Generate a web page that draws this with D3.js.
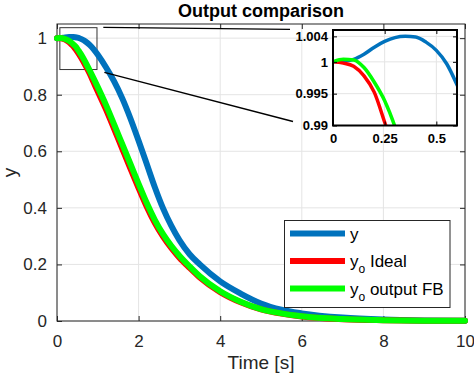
<!DOCTYPE html>
<html>
<head>
<meta charset="utf-8">
<script src="https://cdn.jsdelivr.net/npm/d3@7"></script>
<style>
  body { margin: 0; background: #fff; }
  text { font-family: "Liberation Sans", Arial, Helvetica, sans-serif; }
</style>
</head>
<body>
<div class="chart"></div>
<script>
//data
var time      = [0, 0.05, 0.1, 0.15, 0.2, 0.25, 0.3, 0.35, 0.4, 0.45, 0.5, 0.55, 0.6, 0.7, 0.8, 0.9, 1.0, 1.2, 1.4, 1.6, 1.8, 2.0, 2.2, 2.4, 2.6, 2.8, 3.0, 3.25, 3.5, 4, 4.5, 5, 5.5, 6, 7, 8, 9, 10];
var yOut      = [1, 1.0001, 1.0004, 1.0012, 1.0023, 1.0032, 1.0038, 1.0040, 1.0039, 1.0031, 1.0018, 0.9997, 0.9964, 0.988, 0.976, 0.960, 0.941, 0.897, 0.847, 0.787, 0.716, 0.637, 0.555, 0.472, 0.398, 0.337, 0.286, 0.236, 0.200, 0.140, 0.097, 0.062, 0.040, 0.027, 0.012, 0.005, 0.002, 0.001];
var yIdeal    = [1, 0.9998, 0.9993, 0.9978, 0.9952, 0.9905, 0.9855, 0.978, 0.971, 0.962, 0.952, 0.941, 0.929, 0.903, 0.875, 0.843, 0.811, 0.748, 0.679, 0.609, 0.539, 0.470, 0.404, 0.346, 0.298, 0.258, 0.224, 0.188, 0.154, 0.102, 0.066, 0.041, 0.026, 0.016, 0.0065, 0.0028, 0.001, 0.0005];
var yOutputFB = [1, 1.0004, 1.0003, 0.9991, 0.9968, 0.9939, 0.9898, 0.9845, 0.978, 0.971, 0.962, 0.951, 0.940, 0.914, 0.886, 0.857, 0.827, 0.764, 0.695, 0.625, 0.555, 0.485, 0.417, 0.357, 0.307, 0.266, 0.231, 0.193, 0.158, 0.105, 0.068, 0.042, 0.027, 0.017, 0.007, 0.003, 0.001, 0.0005];

var xTicks = [0, 2, 4, 6, 8, 10];
var yTicks = [0, 0.2, 0.4, 0.6, 0.8, 1];
var insetXTicks = [0, 0.25, 0.5];
var insetYTicks = [0.99, 0.995, 1, 1.004];

var legendText = ["y", "y_o Ideal", "y_o output FB"];
var colors = ["#0072BD", "#FF0000", "#00FF00"];
var series = [yOut, yIdeal, yOutputFB];

//Width and height
var w = 474;
var h = 379;
var axisColor = "#262626";
var gridColor = "#e4e4e4";
var fmt = d3.format("~g");

var svg = d3.select(".chart")
            .append("svg")
            .attr("width", w)
            .attr("height", h);

//----------------------------------------------------------
// Main axes

var x = d3.scaleLinear().domain([0, 10]).range([57, 465]);
var y = d3.scaleLinear().domain([0, 1.05]).range([321, 24]);

var grid = svg.append("g");
grid.selectAll(".gx")
    .data(xTicks)
    .enter()
    .append("line")
    .attr("x1", x).attr("x2", x)
    .attr("y1", y.range()[1]).attr("y2", y.range()[0])
    .attr("stroke", gridColor);
grid.selectAll(".gy")
    .data(yTicks)
    .enter()
    .append("line")
    .attr("y1", y).attr("y2", y)
    .attr("x1", x.range()[0]).attr("x2", x.range()[1])
    .attr("stroke", gridColor);

function styleAxis(g, size) {
  g.select(".domain").remove();
  g.selectAll(".tick line").attr("stroke", axisColor);
  g.selectAll(".tick text")
    .attr("fill", axisColor)
    .style("font-size", size + "px");
}

svg.append("g")
    .attr("transform", "translate(0," + y.range()[0] + ")")
    .call(d3.axisBottom(x).tickValues(xTicks).tickFormat(fmt)
          .tickSizeInner(-5).tickSizeOuter(0).tickPadding(14))
    .call(styleAxis, 17);
svg.append("g")
    .attr("transform", "translate(" + x.range()[0] + ",0)")
    .call(d3.axisLeft(y).tickValues(yTicks).tickFormat(fmt)
          .tickSizeInner(-5).tickSizeOuter(0).tickPadding(10))
    .call(styleAxis, 17);
svg.append("g")
    .attr("transform", "translate(0," + y.range()[1] + ")")
    .call(d3.axisTop(x).tickValues(xTicks).tickFormat("")
          .tickSizeInner(-5).tickSizeOuter(0))
    .call(styleAxis, 17);
svg.append("g")
    .attr("transform", "translate(" + x.range()[1] + ",0)")
    .call(d3.axisRight(y).tickValues(yTicks).tickFormat("")
          .tickSizeInner(-5).tickSizeOuter(0))
    .call(styleAxis, 17);

svg.append("rect")
    .attr("x", x.range()[0]).attr("y", y.range()[1])
    .attr("width", x.range()[1] - x.range()[0])
    .attr("height", y.range()[0] - y.range()[1])
    .attr("fill", "none")
    .attr("stroke", axisColor);

// zoom box
svg.append("rect")
    .attr("x", x(0.07)).attr("y", y(1.037))
    .attr("width", x(0.98) - x(0.07))
    .attr("height", y(0.889) - y(1.037))
    .attr("fill", "none")
    .attr("stroke", "#333")
    .attr("stroke-width", 1);

var mainLine = d3.line()
    .x(function(d) { return x(d[0]); })
    .y(function(d) { return y(d[1]); })
    .curve(d3.curveMonotoneX);

svg.append("g").selectAll("path")
    .data(series)
    .enter()
    .append("path")
    .attr("d", function(s) {
      return mainLine(s.map(function(v, i) { return [time[i], v]; }));
    })
    .attr("fill", "none")
    .attr("stroke", function(d, i) { return colors[i]; })
    .attr("stroke-width", 6)
    .attr("stroke-linecap", "round")
    .attr("stroke-linejoin", "round");

// titles
svg.append("text")
    .attr("x", (x.range()[0] + x.range()[1]) / 2)
    .attr("y", 17)
    .attr("text-anchor", "middle")
    .style("font-size", "18px")
    .style("font-weight", "bold")
    .attr("fill", "#000")
    .text("Output comparison");

svg.append("text")
    .attr("x", (x.range()[0] + x.range()[1]) / 2)
    .attr("y", 369)
    .attr("text-anchor", "middle")
    .style("font-size", "19px")
    .attr("fill", axisColor)
    .text("Time [s]");

svg.append("text")
    .attr("transform", "translate(16," + (y.range()[0] + y.range()[1]) / 2 + ") rotate(-90)")
    .attr("text-anchor", "middle")
    .style("font-size", "19px")
    .attr("fill", axisColor)
    .text("y");

//----------------------------------------------------------
// Legend

var legend = svg.append("g");
legend.append("rect")
    .attr("x", 284.5).attr("y", 220.5)
    .attr("width", 165.5).attr("height", 87)
    .attr("fill", "#fff")
    .attr("stroke", axisColor);

var entry = legend.selectAll(".entry")
    .data(legendText)
    .enter()
    .append("g")
    .attr("transform", function(d, i) { return "translate(0," + (233.5 + i * 27.5) + ")"; });

entry.append("line")
    .attr("x1", 290).attr("x2", 345)
    .attr("stroke", function(d, i) { return colors[i]; })
    .attr("stroke-width", 6);

var lt = entry.append("text")
    .attr("x", 350).attr("y", 6)
    .style("font-size", "17px")
    .attr("fill", "#000");
lt.append("tspan").text(function(d) { return d.split("_")[0]; });
lt.append("tspan")
    .attr("dy", 6)
    .style("font-size", "12px")
    .text(function(d) { var p = d.split("_"); return p.length > 1 ? p[1].split(" ")[0] : ""; });
lt.append("tspan")
    .attr("dy", -6)
    .text(function(d) { var p = d.split("_"); return p.length > 1 ? p[1].slice(p[1].indexOf(" ")) : ""; })
    .attr("xml:space", "preserve")
    .style("white-space", "pre");

//----------------------------------------------------------
// Inset

var ix = d3.scaleLinear().domain([0, 0.6]).range([333, 457]);
var iy = d3.scaleLinear().domain([0.99, 1.005]).range([125.5, 30]);

// connectors from zoom box to inset
svg.append("line")
    .attr("x1", x(1.135)).attr("y1", y(1.038))
    .attr("x2", ix(0) - 43).attr("y2", iy(1.005) - 0.7)
    .attr("stroke", "#000").attr("stroke-width", 1.3);
svg.append("line")
    .attr("x1", x(1.16)).attr("y1", y(0.879))
    .attr("x2", ix(0) - 40).attr("y2", iy(0.99) - 4)
    .attr("stroke", "#000").attr("stroke-width", 1.3);

var inset = svg.append("g");
inset.append("rect")
    .attr("x", ix.range()[0]).attr("y", iy.range()[1])
    .attr("width", ix.range()[1] - ix.range()[0])
    .attr("height", iy.range()[0] - iy.range()[1])
    .attr("fill", "#fff");

inset.selectAll(".igx")
    .data(insetXTicks)
    .enter()
    .append("line")
    .attr("x1", ix).attr("x2", ix)
    .attr("y1", iy.range()[1]).attr("y2", iy.range()[0])
    .attr("stroke", gridColor);
inset.selectAll(".igy")
    .data(insetYTicks)
    .enter()
    .append("line")
    .attr("y1", iy).attr("y2", iy)
    .attr("x1", ix.range()[0]).attr("x2", ix.range()[1])
    .attr("stroke", gridColor);

svg.append("clipPath")
    .attr("id", "insetClip")
    .append("rect")
    .attr("x", ix.range()[0]).attr("y", iy.range()[1])
    .attr("width", ix.range()[1] - ix.range()[0])
    .attr("height", iy.range()[0] - iy.range()[1]);

var insetLine = d3.line()
    .x(function(d) { return ix(d[0]); })
    .y(function(d) { return iy(d[1]); })
    .curve(d3.curveMonotoneX);

inset.append("g")
    .attr("clip-path", "url(#insetClip)")
    .selectAll("path")
    .data(series)
    .enter()
    .append("path")
    .attr("d", function(s) {
      return insetLine(s.map(function(v, i) { return [time[i], v]; }).filter(function(p) { return p[0] <= 1; }));
    })
    .attr("fill", "none")
    .attr("stroke", function(d, i) { return colors[i]; })
    .attr("stroke-width", 3.5);

function styleInset(g) {
  g.select(".domain").remove();
  g.selectAll(".tick line").attr("stroke", "#000");
  g.selectAll(".tick text")
    .attr("fill", "#000")
    .style("font-size", "13px")
    .style("font-weight", "bold");
}

inset.append("g")
    .attr("transform", "translate(0," + iy.range()[0] + ")")
    .call(d3.axisBottom(ix).tickValues(insetXTicks).tickFormat(fmt)
          .tickSizeInner(-4).tickSizeOuter(0).tickPadding(8))
    .call(styleInset);
inset.append("g")
    .attr("transform", "translate(" + ix.range()[0] + ",0)")
    .call(d3.axisLeft(iy).tickValues(insetYTicks).tickFormat(fmt)
          .tickSizeInner(-4).tickSizeOuter(0).tickPadding(5))
    .call(styleInset);
inset.append("g")
    .attr("transform", "translate(0," + iy.range()[1] + ")")
    .call(d3.axisTop(ix).tickValues(insetXTicks).tickFormat("")
          .tickSizeInner(-4).tickSizeOuter(0))
    .call(styleInset);
inset.append("g")
    .attr("transform", "translate(" + ix.range()[1] + ",0)")
    .call(d3.axisRight(iy).tickValues(insetYTicks).tickFormat("")
          .tickSizeInner(-4).tickSizeOuter(0))
    .call(styleInset);

inset.append("rect")
    .attr("x", ix.range()[0]).attr("y", iy.range()[1])
    .attr("width", ix.range()[1] - ix.range()[0])
    .attr("height", iy.range()[0] - iy.range()[1])
    .attr("fill", "none")
    .attr("stroke", "#000")
    .attr("stroke-width", 2);
</script>
</body>
</html>
